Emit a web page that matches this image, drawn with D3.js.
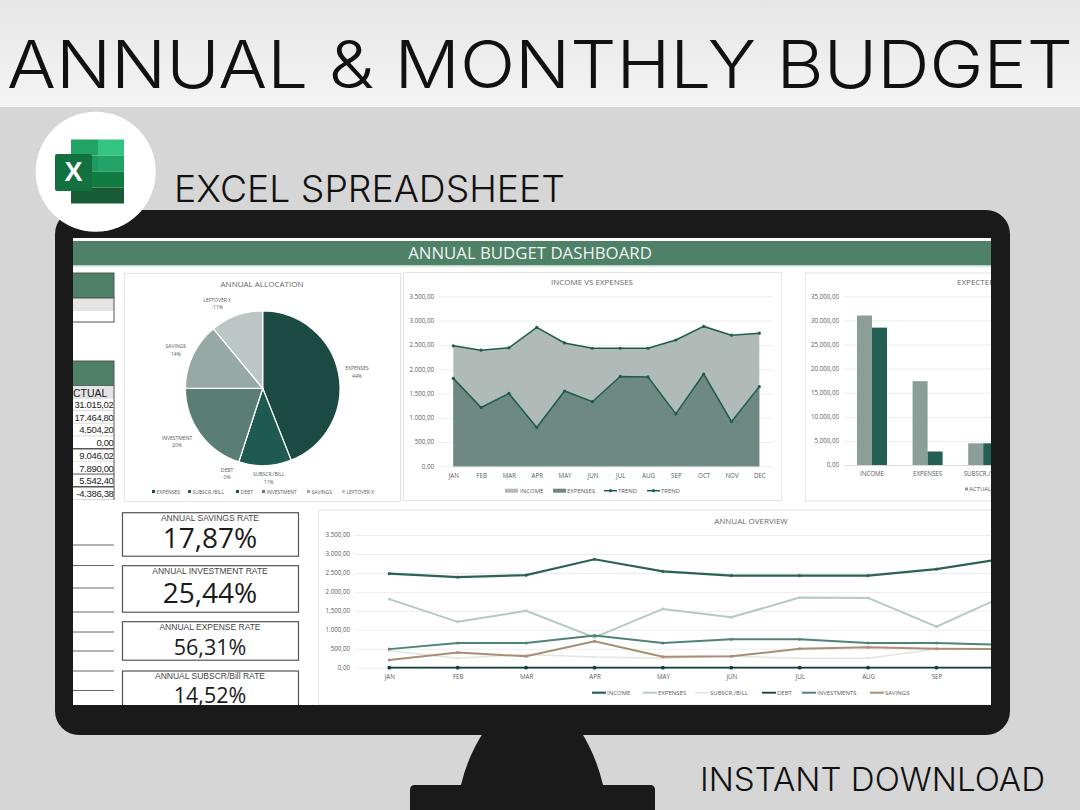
<!DOCTYPE html>
<html>
<head>
<meta charset="utf-8">
<script src="https://cdn.jsdelivr.net/npm/d3@7"></script>
<style>
  html, body { margin: 0; padding: 0; background: #d6d6d6; }
  svg { display: block; }
</style>
</head>
<body>
<div id="visualization"></div>
<script>
const months = ["JAN", "FEB", "MAR", "APR", "MAY", "JUN", "JUL", "AUG", "SEP", "OCT", "NOV", "DEC"];

// pie
const pieCategories = ["EXPENSES", "SUBSCR./BILL", "DEBT", "INVESTMENT", "SAVINGS", "LEFTOVER X"];
const pieValues = [44, 11, 0, 20, 14, 11];
const pieLabels = ["44%", "11%", "0%", "20%", "14%", "-11%"];

// income vs expenses
const income = [2480, 2390, 2440, 2860, 2540, 2430, 2430, 2430, 2600, 2880, 2700, 2740];
const expenses = [1810, 1210, 1500, 800, 1550, 1330, 1850, 1840, 1080, 1900, 920, 1640];

// expected vs actual, the chart runs off the screen after the third group
const barCategories = ["INCOME", "EXPENSES", "SUBSCR./BILL"];
const barExpected = [31015, 17400, 4500];
const barActual = [28500, 2800, 4500];

// annual overview
const subscr = [450, 250, 350, 280, 250, 300, 250, 250, 490, 490, 500, 480];
const debt = [0, 0, 0, 0, 0, 0, 0, 0, 0, 0, 0, 0];
const investments = [490, 650, 650, 850, 650, 750, 750, 650, 650, 600, 600, 650];
const savings = [200, 400, 300, 700, 290, 300, 500, 540, 500, 490, 480, 500];

// left hand table and rates
const tableValues = ["31.015,02", "17.464,80", "4.504,20", "0,00", "9.046,02", "7.890,00", "5.542,40", "-4.386,38"];
const rateNames = ["ANNUAL SAVINGS RATE", "ANNUAL INVESTMENT RATE", "ANNUAL EXPENSE RATE", "ANNUAL SUBSCR/Bill RATE"];
const rateValues = ["17,87%", "25,44%", "56,31%", "14,52%"];

const pieColors = ["#1a4a42", "#1e5a4f", "#1c5045", "#5b7e74", "#97a9a4", "#bcc6c4"];
const ink = "#595959";
const gridColor = "#ececec";
const sans = "'Open Sans', sans-serif";
const narrow = "'Liberation Sans Narrow', 'Liberation Sans', sans-serif";

const svg = d3.select("#visualization").append("svg").attr("width", 1080).attr("height", 810);
const euro = d3.formatLocale({ decimal: ",", thousands: ".", grouping: [3], currency: ["", ""] }).format(",.2f");

drawBackdrop();
const screen = svg.append("g").attr("clip-path", "url(#screen-clip)");
drawDashboardFrame();
drawTable();
drawRates();
drawPie();
drawAreaChart();
drawBarChart();
drawOverview();

function label(parent, txt, x, y, size, anchor, fill) {
  return parent.append("text").text(txt)
    .attr("x", x).attr("y", y)
    .attr("font-size", size)
    .attr("font-family", sans)
    .attr("text-anchor", anchor || "middle")
    .attr("fill", fill || ink);
}

function drawBackdrop() {
  const defs = svg.append("defs");
  const grad = defs.append("linearGradient").attr("id", "band").attr("x1", 0).attr("y1", 0).attr("x2", 0).attr("y2", 1);
  grad.append("stop").attr("offset", 0).attr("stop-color", "#e6e6e6");
  grad.append("stop").attr("offset", 1).attr("stop-color", "#f4f4f4");
  defs.append("clipPath").attr("id", "screen-clip").append("rect")
    .attr("x", 73).attr("y", 238).attr("width", 918).attr("height", 467);

  svg.append("rect").attr("width", 1080).attr("height", 810).attr("fill", "#d6d6d6");
  svg.append("rect").attr("width", 1080).attr("height", 107).attr("fill", "url(#band)");
  svg.append("text").text("ANNUAL & MONTHLY BUDGET")
    .attr("x", 7).attr("y", 88)
    .attr("font-size", 66).attr("font-weight", 300)
    .attr("font-family", "Inter, sans-serif").attr("fill", "#111")
    .attr("textLength", 1066).attr("lengthAdjust", "spacingAndGlyphs");
  svg.append("text").text("EXCEL SPREADSHEET")
    .attr("x", 174).attr("y", 202)
    .attr("font-size", 37).attr("font-weight", 300)
    .attr("font-family", "Inter, sans-serif").attr("fill", "#111")
    .attr("textLength", 391).attr("lengthAdjust", "spacingAndGlyphs");
  svg.append("text").text("INSTANT DOWNLOAD")
    .attr("x", 700).attr("y", 791)
    .attr("font-size", 32).attr("font-weight", 300)
    .attr("font-family", "Inter, sans-serif").attr("fill", "#111")
    .attr("textLength", 345).attr("lengthAdjust", "spacingAndGlyphs");

  // monitor
  svg.append("path").attr("fill", "#1a1a1a")
    .attr("d", "M485,730 L580,730 Q596,755 603,785 L650,785 Q655,785 655,790 L655,810 L410,810 L410,790 Q410,785 415,785 L461,785 Q468,755 485,730 Z");
  svg.append("rect").attr("x", 55).attr("y", 210).attr("width", 955).attr("height", 525).attr("rx", 24).attr("fill", "#1a1a1a");
  svg.append("rect").attr("x", 73).attr("y", 238).attr("width", 918).attr("height", 467).attr("fill", "#fff");

  // excel badge
  svg.append("circle").attr("cx", 95.7).attr("cy", 171.7).attr("r", 60).attr("fill", "#fff");
  const logo = svg.append("g");
  const rows = [
    [71, 139.5, 27, 16, "#21a366"], [98, 139.5, 26, 16, "#33c481"],
    [71, 155.5, 27, 16, "#1f9a5f"], [98, 155.5, 26, 16, "#21a366"],
    [71, 171.5, 27, 16, "#107c41"], [98, 171.5, 26, 16, "#107c41"],
    [71, 187.5, 53, 16, "#185c37"],
  ];
  logo.selectAll("rect").data(rows).enter().append("rect")
    .attr("x", d => d[0]).attr("y", d => d[1]).attr("width", d => d[2]).attr("height", d => d[3]).attr("fill", d => d[4]);
  logo.append("rect").attr("x", 55).attr("y", 154).attr("width", 37).attr("height", 37).attr("rx", 2).attr("fill", "#11713f");
  label(logo, "X", 73.5, 181, 27, "middle", "#fff").attr("font-weight", 700).attr("font-family", "Liberation Sans");
}

function drawDashboardFrame() {
  screen.append("rect").attr("x", 73).attr("y", 241).attr("width", 918).attr("height", 24.5).attr("fill", "#4f8068");
  screen.append("rect").attr("x", 73).attr("y", 265.5).attr("width", 918).attr("height", 1.5).attr("fill", "#d8ece6");
  label(screen, "ANNUAL BUDGET DASHBOARD", 530, 259, 16.8, "middle", "#eef4f0");
}

function card(x, y, w, h) {
  screen.append("rect").attr("x", x).attr("y", y).attr("width", w).attr("height", h)
    .attr("fill", "#fff").attr("stroke", "#e4e4e4");
}

function drawTable() {
  const border = "#555";
  screen.append("rect").attr("x", 60).attr("y", 273).attr("width", 54).attr("height", 25).attr("fill", "#4f8068").attr("stroke", border);
  screen.append("rect").attr("x", 60).attr("y", 298).attr("width", 54).attr("height", 13).attr("fill", "#e4e4e2");
  screen.append("rect").attr("x", 60).attr("y", 298).attr("width", 54).attr("height", 24).attr("fill", "none").attr("stroke", border);
  screen.append("rect").attr("x", 60).attr("y", 361).attr("width", 54).attr("height", 25).attr("fill", "#4f8068").attr("stroke", border);
  screen.append("rect").attr("x", 60).attr("y", 386).attr("width", 54).attr("height", 13).attr("fill", "#e4e4e2");
  label(screen, "CTUAL", 73, 397, 10.5, "start", "#222").attr("font-family", narrow);

  const rowY = d3.scaleLinear().domain([0, tableValues.length - 1]).range([408, 497]);
  tableValues.forEach((v, i) => {
    label(screen, v, 113.5, rowY(i), 9.5, "end", "#222")
      .attr("font-family", narrow)
      .attr("letter-spacing", -0.35);
    screen.append("line").attr("x1", 73).attr("x2", 114)
      .attr("y1", rowY(i) + 2.5).attr("y2", rowY(i) + 2.5)
      .attr("stroke", i === 3 || i === 5 || i === 6 ? "#555" : "#d5dcd8")
      .attr("stroke-width", i === 3 || i === 6 ? 1.5 : 1)
      .attr("stroke-dasharray", i === 4 ? "2,1" : null);
  });
  screen.append("line").attr("x1", 114).attr("x2", 114).attr("y1", 386).attr("y2", 500).attr("stroke", "#555");

  // row rules below the table
  [545, 565.5, 588, 612, 632, 651, 671, 690.5].forEach(y => {
    screen.append("line").attr("x1", 73).attr("x2", 114).attr("y1", y).attr("y2", y).attr("stroke", "#666");
  });
}

function drawRates() {
  const boxes = [
    { y: 512.7, h: 43.5, size: 28, base: 547.5 },
    { y: 565.7, h: 46.5, size: 28, base: 603 },
    { y: 621.7, h: 38.5, size: 21.5, base: 655 },
    { y: 671, h: 45, size: 21.5, base: 703 },
  ];
  boxes.forEach((b, i) => {
    screen.append("rect").attr("x", 122.5).attr("y", b.y).attr("width", 176).attr("height", b.h)
      .attr("fill", "#fff").attr("stroke", "#555").attr("stroke-width", 1.2);
    label(screen, rateNames[i], 210, b.y + 8, 8.5, "middle", "#444").attr("font-family", "Liberation Sans");
    label(screen, rateValues[i], 210, b.base, b.size, "middle", "#1a1a1a");
  });
}

function drawPie() {
  card(124.5, 273.5, 276, 228);
  label(screen, "ANNUAL ALLOCATION", 262, 287, 8, "middle", "#666");

  const cx = 262.7, cy = 388.3, radius = 77.3;
  const pie = d3.pie().sort(null).value(d => d)(pieValues);
  const arc = d3.arc().innerRadius(0).outerRadius(radius);
  const g = screen.append("g").attr("transform", "translate(" + cx + "," + cy + ")");

  g.selectAll("path").data(pie).enter().append("path")
    .attr("d", arc)
    .attr("fill", (d, i) => pieColors[i])
    .attr("stroke", "#fff").attr("stroke-width", 1.2);

  // labels hang off a wider arc, with a nudge where the centroid is off
  const labelArc = d3.arc().innerRadius(96).outerRadius(96);
  const nudge = [[0, 0], [3, -8], [-6, -7.6], [-8, -5], [0, 1], [-13, 4]];
  pie.forEach((d, i) => {
    const p = labelArc.centroid(d);
    const x = p[0] + nudge[i][0], y = p[1] + nudge[i][1];
    label(g, pieCategories[i], x, y, 5);
    label(g, pieLabels[i], x, y + 7.5, 5);
  });

  // legend
  const legendX = d3.scaleOrdinal().domain(pieCategories).range([152, 188, 236, 262, 307, 342]);
  pieCategories.forEach((c, i) => {
    const x = legendX(c);
    screen.append("rect").attr("x", x).attr("y", 490).attr("width", 3).attr("height", 3).attr("fill", pieColors[i]);
    label(screen, c, x + 4.5, 493.5, 5, "start");
  });
}

function gridAxes(parent, x, y, yTicks, xValues, left, right, labelDy) {
  const yAxis = d3.axisLeft(y).tickValues(yTicks).tickFormat(euro).tickSize(left - right);
  parent.append("g").attr("transform", "translate(" + left + ",0)").call(yAxis)
    .call(g => g.select(".domain").remove())
    .call(g => g.selectAll(".tick line").attr("stroke", gridColor).attr("x2", right - left))
    .call(g => g.selectAll(".tick text").attr("x", -5).attr("font-size", 6.2).attr("font-family", sans).attr("fill", ink));
  const xAxis = d3.axisBottom(x).tickValues(xValues).tickSize(0);
  parent.append("g").attr("transform", "translate(0," + y(0) + ")").call(xAxis)
    .call(g => g.select(".domain").attr("stroke", "#d9d9d9"))
    .call(g => g.selectAll(".tick text").attr("y", labelDy).attr("font-size", 6.2).attr("font-family", sans).attr("fill", ink));
}

function drawAreaChart() {
  card(403.5, 272.5, 378, 228);
  label(screen, "INCOME VS EXPENSES", 592, 285, 8, "middle", "#666");

  const x = d3.scalePoint().domain(months).range([453.3, 759.3]);
  const y = d3.scaleLinear().domain([0, 3500]).range([466.3, 296.3]);
  gridAxes(screen, x, y, d3.range(0, 3501, 500), months, 439, 773, 7);

  const area = d3.area().x((d, i) => x(months[i])).y0(y(0)).y1(d => y(d));
  const line = d3.line().x((d, i) => x(months[i])).y(d => y(d));
  const lineColor = "#1f5b4f";

  screen.append("path").datum(income).attr("d", area).attr("fill", "#b0bab7");
  screen.append("path").datum(expenses).attr("d", area).attr("fill", "#6e8882");
  [income, expenses].forEach(series => {
    screen.append("path").datum(series).attr("d", line).attr("fill", "none").attr("stroke", lineColor).attr("stroke-width", 1.5);
    screen.append("g").selectAll("circle").data(series).enter().append("circle")
      .attr("cx", (d, i) => x(months[i])).attr("cy", d => y(d)).attr("r", 1.6).attr("fill", lineColor);
  });

  // legend
  const legendY = 490.7;
  screen.append("rect").attr("x", 505).attr("y", legendY - 2).attr("width", 13).attr("height", 4).attr("fill", "#b0bab7");
  label(screen, "INCOME", 520, legendY + 2, 6, "start");
  screen.append("rect").attr("x", 553).attr("y", legendY - 2).attr("width", 13).attr("height", 4).attr("fill", "#6e8882");
  label(screen, "EXPENSES", 567, legendY + 2, 6, "start");
  [604, 647].forEach(lx => {
    screen.append("line").attr("x1", lx).attr("x2", lx + 13).attr("y1", legendY).attr("y2", legendY).attr("stroke", lineColor).attr("stroke-width", 1.5);
    screen.append("circle").attr("cx", lx + 6.5).attr("cy", legendY).attr("r", 1.6).attr("fill", lineColor);
    label(screen, "TREND", lx + 14, legendY + 2, 6, "start");
  });
}

function drawBarChart() {
  card(805.5, 273, 220, 228);
  label(screen, "EXPECTED VS ACTUAL", 957, 285, 8, "start", "#666");

  const step = 55.6;
  const x = d3.scaleBand().domain(barCategories)
    .range([844.2, 844.2 + step * barCategories.length]).paddingInner(0.46).paddingOuter(0.23);
  const y = d3.scaleLinear().domain([0, 35000]).range([465, 296.3]);
  gridAxes(screen, x, y, d3.range(0, 35001, 5000), barCategories, 844, 1010, 7);

  const w = x.bandwidth() / 2;
  screen.append("g").selectAll("rect").data(barExpected).enter().append("rect")
    .attr("x", (d, i) => x(barCategories[i])).attr("y", d => y(d))
    .attr("width", w).attr("height", d => y(0) - y(d)).attr("fill", "#8b9e98");
  screen.append("g").selectAll("rect").data(barActual).enter().append("rect")
    .attr("x", (d, i) => x(barCategories[i]) + w).attr("y", d => y(d))
    .attr("width", w).attr("height", d => y(0) - y(d)).attr("fill", "#235f53");

  screen.append("rect").attr("x", 965).attr("y", 487.5).attr("width", 3).attr("height", 3).attr("fill", "#8b9e98");
  label(screen, "ACTUAL", 969, 491, 6, "start");
}

function drawOverview() {
  card(318.5, 510, 700, 195);
  label(screen, "ANNUAL OVERVIEW", 751, 524, 8, "middle", "#666");

  const x = d3.scalePoint().domain(months).range([389.3, 1141.7]);
  const y = d3.scaleLinear().domain([0, 3500]).range([667.7, 535]);
  // only the months up to SEP fit on the screen
  gridAxes(screen, x, y, d3.range(0, 3501, 500), months.slice(0, 9), 355, 1010, 7);

  const seriesList = [
    { name: "SUBSCR./BILL", values: subscr, color: "#e3e4de", width: 1.5, dot: 1.2 },
    { name: "EXPENSES", values: expenses, color: "#b5c9c4", width: 2, dot: 1.4 },
    { name: "INCOME", values: income, color: "#2a6355", width: 2.2, dot: 1.6 },
    { name: "INVESTMENTS", values: investments, color: "#4f8378", width: 2, dot: 1.5 },
    { name: "SAVINGS", values: savings, color: "#a98e73", width: 2, dot: 1.5 },
    { name: "DEBT", values: debt, color: "#123f37", width: 1.8, dot: 1.9 },
  ];
  const line = d3.line().x((d, i) => x(months[i])).y(d => y(d));
  seriesList.forEach(s => {
    screen.append("path").datum(s.values).attr("d", line).attr("fill", "none").attr("stroke", s.color).attr("stroke-width", s.width);
    screen.append("g").selectAll("circle").data(s.values).enter().append("circle")
      .attr("cx", (d, i) => x(months[i])).attr("cy", d => y(d)).attr("r", s.dot).attr("fill", s.color);
  });

  // legend
  const legendOrder = ["INCOME", "EXPENSES", "SUBSCR./BILL", "DEBT", "INVESTMENTS", "SAVINGS"];
  const legendX = d3.scaleOrdinal().domain(legendOrder).range([592, 643, 695, 762, 802, 870]);
  legendOrder.forEach(name => {
    const s = seriesList.find(d => d.name === name);
    const lx = legendX(name);
    screen.append("line").attr("x1", lx).attr("x2", lx + 14).attr("y1", 692.7).attr("y2", 692.7).attr("stroke", s.color).attr("stroke-width", s.width);
    label(screen, name, lx + 15, 695, 6, "start");
  });
}
</script>
</body>
</html>
